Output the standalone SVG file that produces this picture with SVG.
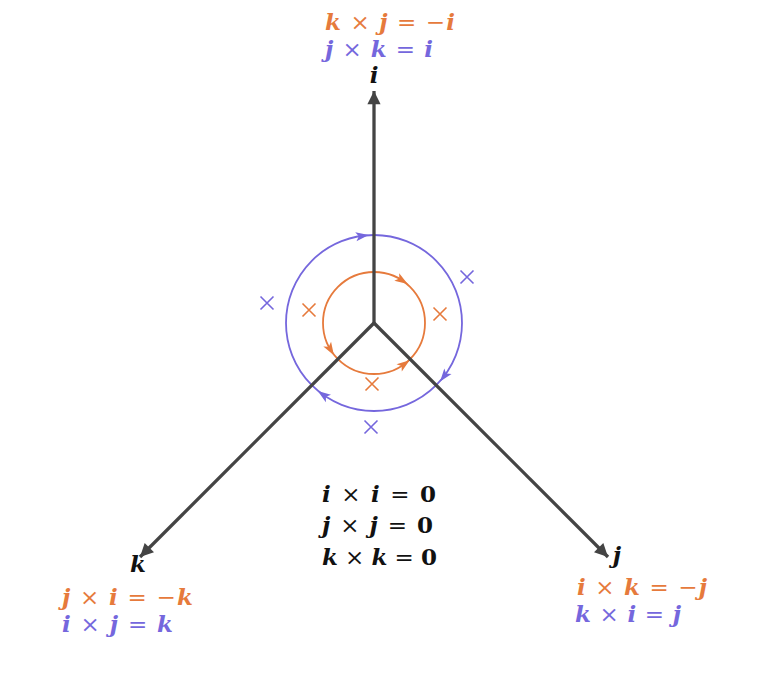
<svg xmlns="http://www.w3.org/2000/svg" width="768" height="681" viewBox="0 0 768 681">
<style>
.eq{font-family:"DejaVu Serif","Liberation Serif",serif;font-size:23px}
.v{font-weight:bold;font-style:italic}
.n{font-weight:bold}
.or{fill:#e67a3c}
.bl{fill:#7567dd}
.bk{fill:#111}
.axis{stroke:#444;stroke-width:3.3;fill:none}
.cx-or{stroke:#e67a3c;stroke-width:1.6}
.cx-bl{stroke:#7567dd;stroke-width:1.6}
</style>
<defs>
<marker id="ah" viewBox="0 0 10 10" refX="10" refY="5" markerWidth="6" markerHeight="4" markerUnits="strokeWidth" orient="auto">
<path d="M0,0 L10,5 L0,10 Z" fill="#444"/>
</marker>
<path id="tri" d="M7,0 L-6,-4.5 L-3,0 L-6,4.5 Z"/>
<path id="cross" d="M-6.5,-6.5 L6.5,6.5 M-6.5,6.5 L6.5,-6.5"/>
</defs>
<rect width="768" height="681" fill="#fff"/>

<g id="circles">
<circle cx="374" cy="323" r="88" fill="none" stroke="#7567dd" stroke-width="1.8"/>
<circle cx="374" cy="323" r="51" fill="none" stroke="#e67a3c" stroke-width="1.8"/>
<g fill="#7567dd">
<use href="#tri" transform="translate(361.8,235.9) rotate(-8)"/>
<use href="#tri" transform="translate(444.3,376) rotate(127)"/>
<use href="#tri" transform="translate(323.5,395.1) rotate(215)"/>
</g>
<g fill="#e67a3c">
<use href="#tri" transform="translate(401.8,280.2) rotate(33)"/>
<use href="#tri" transform="translate(330.3,349.3) rotate(59)"/>
<use href="#tri" transform="translate(404,364.3) rotate(-36)"/>
</g>
</g>

<g id="crosses">
<g class="cx-bl">
<use href="#cross" transform="translate(267,303)"/>
<use href="#cross" transform="translate(467,277)"/>
<use href="#cross" transform="translate(371,427)"/>
</g>
<g class="cx-or">
<use href="#cross" transform="translate(309,310)"/>
<use href="#cross" transform="translate(440,314)"/>
<use href="#cross" transform="translate(372,384)"/>
</g>
</g>

<g id="connectors">
<line class="axis" x1="374" y1="323" x2="374" y2="91" marker-end="url(#ah)"/>
<line class="axis" x1="374" y1="323" x2="608" y2="557" marker-end="url(#ah)"/>
<line class="axis" x1="374" y1="323" x2="140" y2="557" marker-end="url(#ah)"/>
</g>

<g id="node-i">
<text class="eq or" x="325" y="30" textLength="130" lengthAdjust="spacing"><tspan class="v">k</tspan> × <tspan class="v">j</tspan> = −<tspan class="v">i</tspan></text>
<text class="eq bl" x="325" y="57" textLength="108" lengthAdjust="spacing"><tspan class="v">j</tspan> × <tspan class="v">k</tspan> = <tspan class="v">i</tspan></text>
<text class="eq bk v" x="374" y="83" text-anchor="middle">i</text>
</g>

<g id="node-j">
<text class="eq bk v" x="617" y="563" text-anchor="middle">j</text>
<text class="eq or" x="577" y="595" textLength="130" lengthAdjust="spacing"><tspan class="v">i</tspan> × <tspan class="v">k</tspan> = −<tspan class="v">j</tspan></text>
<text class="eq bl" x="575" y="622" textLength="106" lengthAdjust="spacing"><tspan class="v">k</tspan> × <tspan class="v">i</tspan> = <tspan class="v">j</tspan></text>
</g>

<g id="node-k">
<text class="eq bk v" x="138" y="572" text-anchor="middle">k</text>
<text class="eq or" x="62" y="605" textLength="131" lengthAdjust="spacing"><tspan class="v">j</tspan> × <tspan class="v">i</tspan> = −<tspan class="v">k</tspan></text>
<text class="eq bl" x="62" y="632" textLength="111" lengthAdjust="spacing"><tspan class="v">i</tspan> × <tspan class="v">j</tspan> = <tspan class="v">k</tspan></text>
</g>

<g id="node-zero">
<text class="eq bk" x="322" y="502" textLength="114" lengthAdjust="spacing"><tspan class="v">i</tspan> × <tspan class="v">i</tspan> = <tspan class="n">0</tspan></text>
<text class="eq bk" x="322" y="533" textLength="111" lengthAdjust="spacing"><tspan class="v">j</tspan> × <tspan class="v">j</tspan> = <tspan class="n">0</tspan></text>
<text class="eq bk" x="322" y="565" textLength="115" lengthAdjust="spacing"><tspan class="v">k</tspan> × <tspan class="v">k</tspan> = <tspan class="n">0</tspan></text>
</g>
</svg>
